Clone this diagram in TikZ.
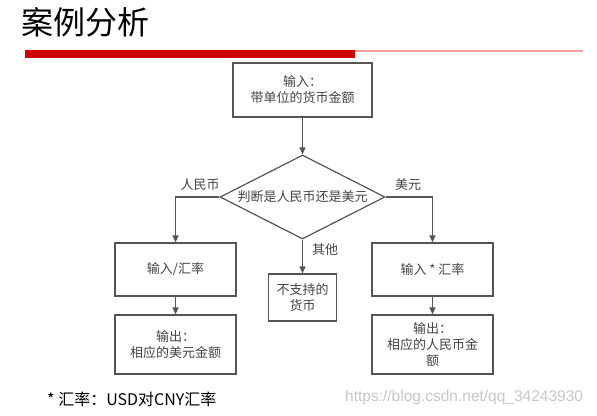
\documentclass[tikz,border=0pt]{standalone}
\usepackage{fontspec}
\setmainfont{Noto Sans CJK SC}
\newfontfamily\wmfont{Liberation Sans}
\usetikzlibrary{shapes.geometric,arrows.meta}
\definecolor{linegray}{HTML}{555555}
\definecolor{txtgray}{HTML}{444444}
\definecolor{barred}{HTML}{CC0000}
\definecolor{barpink}{HTML}{EFA3A3}
\tikzset{
  box/.style={draw=linegray,line width=1.2pt,rectangle,inner sep=0pt,align=center,text=txtgray,font=\fontsize{13}{16}\selectfont},
  decide/.style={draw=linegray,line width=1.2pt,diamond,aspect=1.96,inner sep=0pt,minimum width=165pt,minimum height=84pt,text=txtgray,font=\fontsize{13}{16}\selectfont},
  conn/.style={draw=linegray,line width=1.2pt,-{Triangle[length=7pt,width=6pt]}},
  lab/.style={text=txtgray,font=\fontsize{13}{16}\selectfont,inner sep=0pt}
}
\begin{document}
\begin{tikzpicture}[x=1pt,y=-1pt]
\useasboundingbox (0,0) rectangle (597,415);
\fill[white] (0,0) rectangle (597,415);
\node[font=\fontsize{32}{34}\selectfont,inner sep=0pt,anchor=west] (title) at (21,22.5) {案例分析};
\fill[barred] (25,50) rectangle (355,58);
\fill[barpink] (355,50) rectangle (583,52);
\node[box,minimum width=139pt,minimum height=54pt] (top) at (302.5,90) {输入：\\带单位的货币金额};
\node[decide] (dec) at (302.5,197) {判断是人民币还是美元};
\node[box,minimum width=121pt,minimum height=53pt] (lin) at (175.5,269.5) {输入/汇率};
\node[box,minimum width=121pt,minimum height=59pt] (lout) at (175.5,344.5) {输出：\\相应的美元金额};
\node[box,minimum width=121pt,minimum height=53pt] (rin) at (432.5,269.5) {输入 * 汇率};
\node[box,minimum width=121pt,minimum height=59pt] (rout) at (432.5,344.5) {输出：\\相应的人民币金\\额};
\node[box,minimum width=68pt,minimum height=47pt] (mid) at (302.5,297.5) {不支持的\\货币};
\draw[conn] (top) -- (dec);
\draw[conn] (dec.west) -| (lin.north);
\draw[conn] (dec.east) -| (rin.north);
\draw[conn] (dec.south) -- (mid.north);
\draw[conn] (lin) -- (lout);
\draw[conn] (rin) -- (rout);
\node[lab] (lrmb) at (200,185) {人民币};
\node[lab] (lusd) at (408,185) {美元};
\node[lab] (loth) at (325,250) {其他};
\node[anchor=west,inner sep=0pt,font=\fontsize{16}{18}\selectfont] (note) at (47,399.5) {* 汇率：USD对CNY汇率};
\node[anchor=west,inner sep=0pt,text=black!22,font=\wmfont\fontsize{15.5}{17}\selectfont] (wm) at (345,397.5) {https://blog.csdn.net/qq\_34243930};
\end{tikzpicture}
\end{document}
